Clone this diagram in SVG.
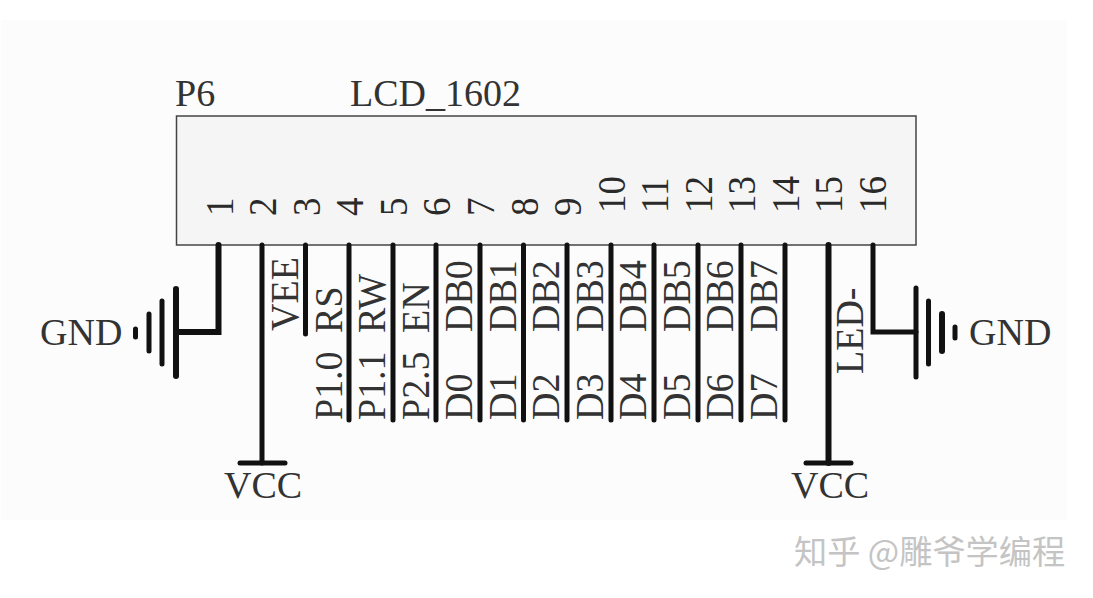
<svg xmlns="http://www.w3.org/2000/svg" width="1093" height="598" viewBox="0 0 1093 598">
<style>
text{font-family:"Liberation Serif","Times New Roman",serif;font-size:38px;fill:#333}
.n{font-size:37px;fill:#2a2a2a}
.sp{word-spacing:9px}
.w{stroke:#111;stroke-linecap:round;fill:none}
.wm{font-family:"Noto Sans CJK SC","Noto Sans",sans-serif;font-size:33.200px;fill:#c4c4c4}
</style>
<rect width="1093" height="598" fill="#fff"/>
<rect x="1" y="20" width="1066" height="500" fill="#fcfcfc"/>
<g id="P6">
<rect x="176.500" y="116" width="739.500" height="129" fill="#f5f5f5" stroke="#444" stroke-width="1.500"/>
<text x="175" y="106">P6</text>
<text x="350" y="106">LCD_1602</text>
<text class="n" transform="translate(233 216) rotate(-90) scale(1 1.08)">1</text>
<text class="n" transform="translate(276 216) rotate(-90) scale(1 1.08)">2</text>
<text class="n" transform="translate(320 216) rotate(-90) scale(1 1.08)">3</text>
<text class="n" transform="translate(363 216) rotate(-90) scale(1 1.08)">4</text>
<text class="n" transform="translate(407 216) rotate(-90) scale(1 1.08)">5</text>
<text class="n" transform="translate(450 216) rotate(-90) scale(1 1.08)">6</text>
<text class="n" transform="translate(494 216) rotate(-90) scale(1 1.08)">7</text>
<text class="n" transform="translate(538 216) rotate(-90) scale(1 1.08)">8</text>
<text class="n" transform="translate(581 216) rotate(-90) scale(1 1.08)">9</text>
<text class="n" transform="translate(625 213) rotate(-90) scale(1 1.08)">10</text>
<text class="n" transform="translate(668 213) rotate(-90) scale(1 1.08)">11</text>
<text class="n" transform="translate(712 213) rotate(-90) scale(1 1.08)">12</text>
<text class="n" transform="translate(755 213) rotate(-90) scale(1 1.08)">13</text>
<text class="n" transform="translate(799 213) rotate(-90) scale(1 1.08)">14</text>
<text class="n" transform="translate(842 213) rotate(-90) scale(1 1.08)">15</text>
<text class="n" transform="translate(886 213) rotate(-90) scale(1 1.08)">16</text>
</g>
<g id="connectors">
<path class="w" stroke-width="6" d="M218.500 245V332H178"/>
<path class="w" stroke-width="5" d="M262 245V463"/>
<path class="w" stroke-width="5" d="M305.500 245V334"/>
<path class="w" stroke-width="5" d="M349 245V420M393 245V420M436 245V420M480 245V420M523.500 245V420M567 245V420M611 245V420M654 245V420M698 245V420M741 245V420M785 245V420"/>
<path class="w" stroke-width="6" d="M828.500 245V463"/>
<path class="w" stroke-width="5" d="M873 245V332H916"/>
</g>
<g id="labels">
<text transform="translate(298 331) rotate(-90) scale(1 1.06)">VEE</text>
<text class="sp" transform="translate(342 420) rotate(-90) scale(1 1.06)">P1.0 RS</text>
<text class="sp" transform="translate(385 420) rotate(-90) scale(1 1.06)">P1.1 RW</text>
<text class="sp" transform="translate(429 420) rotate(-90) scale(1 1.06)">P2.5 EN</text>
<text transform="translate(472 420) rotate(-90) scale(1 1.06)">D0</text>
<text transform="translate(516 420) rotate(-90) scale(1 1.06)">D1</text>
<text transform="translate(559 420) rotate(-90) scale(1 1.06)">D2</text>
<text transform="translate(603 420) rotate(-90) scale(1 1.06)">D3</text>
<text transform="translate(646 420) rotate(-90) scale(1 1.06)">D4</text>
<text transform="translate(690 420) rotate(-90) scale(1 1.06)">D5</text>
<text transform="translate(733 420) rotate(-90) scale(1 1.06)">D6</text>
<text transform="translate(777 420) rotate(-90) scale(1 1.06)">D7</text>
<text transform="translate(472 332) rotate(-90) scale(1 1.06)">DB0</text>
<text transform="translate(516 332) rotate(-90) scale(1 1.06)">DB1</text>
<text transform="translate(559 332) rotate(-90) scale(1 1.06)">DB2</text>
<text transform="translate(603 332) rotate(-90) scale(1 1.06)">DB3</text>
<text transform="translate(646 332) rotate(-90) scale(1 1.06)">DB4</text>
<text transform="translate(690 332) rotate(-90) scale(1 1.06)">DB5</text>
<text transform="translate(733 332) rotate(-90) scale(1 1.06)">DB6</text>
<text transform="translate(777 332) rotate(-90) scale(1 1.06)">DB7</text>
<text transform="translate(863 374) rotate(-90) scale(1 1.06)">LED-</text>
</g>
<g id="gnd-left">
<path class="w" stroke-width="6" d="M176 289V376"/>
<path class="w" stroke-width="5" d="M162 301V364"/>
<path class="w" stroke-width="5" d="M149 314V351"/>
<path class="w" stroke-width="5" d="M135.500 329V337"/>
<text x="40" y="345">GND</text>
</g>
<g id="gnd-right">
<path class="w" stroke-width="5" d="M916 288V377"/>
<path class="w" stroke-width="5" d="M928.500 301V364"/>
<path class="w" stroke-width="6" d="M942 314V351"/>
<path class="w" stroke-width="5" d="M955 327V338"/>
<text x="969" y="345">GND</text>
</g>
<g id="vcc-left">
<path class="w" stroke-width="5" d="M240 463H285"/>
<text x="224" y="498">VCC</text>
</g>
<g id="vcc-right">
<path class="w" stroke-width="5" d="M806 463H851"/>
<text x="791" y="498">VCC</text>
</g>
<text class="wm" x="794" y="564">知乎 @雕爷学编程</text>
</svg>
